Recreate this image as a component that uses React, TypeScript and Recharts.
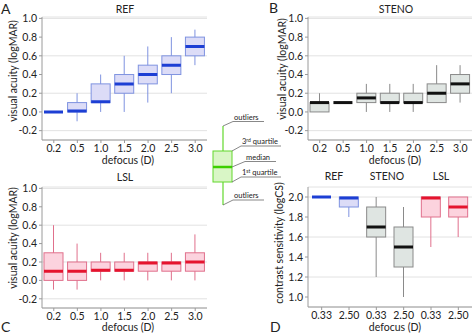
import React from 'react';
import { ComposedChart, Bar, XAxis, YAxis, CartesianGrid } from 'recharts';

// defocus levels for panels A-C
const defocus = ['0.2', '0.5', '1.0', '1.5', '2.0', '2.5', '3.0'];
const acuityTicks = [-0.2, 0, 0.2, 0.4, 0.6, 0.8, 1.0];

// REF (panel A), logMAR
const refLow = [0, -0.1, 0, 0, 0.1, 0.2, 0.5];
const refQ1 = [0, 0, 0.1, 0.2, 0.3, 0.4, 0.6];
const refMed = [0, 0.01, 0.11, 0.3, 0.4, 0.5, 0.7];
const refQ3 = [0, 0.1, 0.3, 0.4, 0.5, 0.6, 0.8];
const refHigh = [0, 0.2, 0.4, 0.6, 0.7, 0.8, 0.88];

// STENO (panel B)
const stenoLow = [0, 0.1, 0, 0, 0, 0.1, 0.1];
const stenoQ1 = [0, 0.1, 0.1, 0.1, 0.1, 0.1, 0.2];
const stenoMed = [0.1, 0.1, 0.15, 0.1, 0.1, 0.2, 0.3];
const stenoQ3 = [0.1, 0.1, 0.2, 0.2, 0.2, 0.3, 0.4];
const stenoHigh = [0.2, 0.1, 0.3, 0.3, 0.3, 0.5, 0.5];

// LSL (panel C)
const lslLow = [-0.1, -0.1, 0, 0, 0, 0, 0];
const lslQ1 = [0, 0, 0.1, 0.1, 0.1, 0.1, 0.1];
const lslMed = [0.1, 0.1, 0.11, 0.11, 0.19, 0.19, 0.2];
const lslQ3 = [0.3, 0.2, 0.2, 0.2, 0.2, 0.2, 0.3];
const lslHigh = [0.6, 0.4, 0.3, 0.3, 0.3, 0.3, 0.5];

// contrast sensitivity (panel D), logCS
const csGroup = ['REF', 'REF', 'STENO', 'STENO', 'LSL', 'LSL'];
const csDefocus = ['0.33', '2.50', '0.33', '2.50', '0.33', '2.50'];
const csLow = [2.0, 1.8, 1.2, 1.0, 1.5, 1.6];
const csQ1 = [2.0, 1.9, 1.6, 1.3, 1.8, 1.8];
const csMed = [2.0, 1.99, 1.7, 1.5, 1.99, 1.9];
const csQ3 = [2.0, 2.0, 1.9, 1.7, 2.0, 2.0];
const csHigh = [2.0, 2.0, 2.0, 1.9, 2.0, 2.0];
const csTicks = [1.0, 1.2, 1.4, 1.6, 1.8, 2.0];

const FONT = 'Lato, "Open Sans", sans-serif';
const AXIS = '#9a9a9a';
const TXT = '#222222';

const PAL: Record<string, { fill: string; stroke: string; median: string }> = {
  REF: { fill: '#dcdcf7', stroke: '#7f93e0', median: '#1d3fd4' },
  STENO: { fill: '#dfe5e2', stroke: '#8a8a8a', median: '#111111' },
  LSL: { fill: '#fcd3de', stroke: '#e0708c', median: '#e5142e' },
};

const rows = (names: string[], lo: number[], q1: number[], med: number[], q3: number[], hi: number[], group: string[]) =>
  names.map((name, i) => ({ name, lo: lo[i], q1: q1[i], med: med[i], q3: q3[i], hi: hi[i], group: group[i] }));

const refData = rows(defocus, refLow, refQ1, refMed, refQ3, refHigh, defocus.map(() => 'REF'));
const stenoData = rows(defocus, stenoLow, stenoQ1, stenoMed, stenoQ3, stenoHigh, defocus.map(() => 'STENO'));
const lslData = rows(defocus, lslLow, lslQ1, lslMed, lslQ3, lslHigh, defocus.map(() => 'LSL'));
const csData = rows(csDefocus.map((d, i) => `${csGroup[i]} ${d}`), csLow, csQ1, csMed, csQ3, csHigh, csGroup);

// the bar spans whisker low..high; everything else is placed inside it
const BoxShape = (props: any) => {
  const { x, y, width, height, payload } = props;
  const top = Math.min(y, y + height);
  const bot = Math.max(y, y + height);
  const { lo, q1, med, q3, hi, group } = payload;
  const span = hi - lo;
  const py = (v: number) => (span === 0 ? top : top + ((hi - v) / span) * (bot - top));
  const cx = x + width / 2;
  const pal = PAL[group];
  return (
    <g>
      <line x1={cx} x2={cx} y1={py(hi)} y2={py(lo)} stroke={pal.stroke} strokeWidth={1} />
      <rect x={x} y={py(q3)} width={width} height={py(q1) - py(q3)} fill={pal.fill} stroke={pal.stroke} strokeWidth={1} />
      <line x1={x} x2={x + width} y1={py(med)} y2={py(med)} stroke={pal.median} strokeWidth={3} />
    </g>
  );
};

const tickStyle = { fontSize: 10.5, fill: TXT, fontFamily: FONT };

function BoxPanel({ data, width, height, margin, domain, ticks, xHeight, fmt }: any) {
  return (
    <ComposedChart width={width} height={height} data={data} margin={margin}>
      <CartesianGrid vertical={false} stroke="#e2e2e2" />
      <XAxis dataKey="name" height={xHeight} tick={tickStyle} tickFormatter={fmt} stroke={AXIS} tickSize={3} interval={0} />
      <XAxis xAxisId="top" orientation="top" dataKey="name" height={0} tick={false} tickLine={false} stroke={AXIS} />
      <YAxis type="number" domain={domain} ticks={ticks} allowDataOverflow width={42} tick={tickStyle} tickFormatter={(v: number) => v.toFixed(1)} stroke={AXIS} tickSize={3} />
      <YAxis yAxisId="right" orientation="right" type="number" domain={domain} allowDataOverflow width={0} tick={false} tickLine={false} stroke={AXIS} />
      <Bar dataKey={(d: any) => [d.lo, d.hi]} barSize={19} shape={BoxShape} isAnimationActive={false} />
    </ComposedChart>
  );
}

const Rot = ({ x, y, children }: any) => (
  <text transform={`translate(${x},${y}) rotate(-90)`} textAnchor="middle" dominantBaseline="central" fontSize={10.5} fill={TXT} fontFamily={FONT}>
    {children}
  </text>
);

const T = ({ x, y, size = 10.5, anchor = 'middle', children }: any) => (
  <text x={x} y={y} textAnchor={anchor} fontSize={size} fill={TXT} fontFamily={FONT}>
    {children}
  </text>
);

function Key() {
  const g = '#62d82c';
  const lead = '#555';
  const fs = 7.5;
  return (
    <g fontFamily={FONT} fontSize={fs} fill={TXT}>
      <line x1={223} x2={223} y1={126} y2={205} stroke={g} strokeWidth={1.2} />
      <rect x={213} y={151} width={19} height={31} fill="#d9f6c6" stroke={g} />
      <line x1={213} x2={232} y1={167} y2={167} stroke="#3ccf00" strokeWidth={2.5} />
      <polyline points="223,126 233,121.5 264,121.5" fill="none" stroke={lead} strokeWidth={0.7} />
      <text x={234} y={119.5}>outliers</text>
      <polyline points="232,151 241,146 281,146" fill="none" stroke={lead} strokeWidth={0.7} />
      <text x={242} y={144}>3<tspan fontSize={5} dy={-2.5}>rd</tspan><tspan dy={2.5}> quartile</tspan></text>
      <polyline points="232,167 245,161.5 276,161.5" fill="none" stroke={lead} strokeWidth={0.7} />
      <text x={246} y={159.5}>median</text>
      <polyline points="232,182 241,177 281,177" fill="none" stroke={lead} strokeWidth={0.7} />
      <text x={242} y={175}>1<tspan fontSize={5} dy={-2.5}>st</tspan><tspan dy={2.5}> quartile</tspan></text>
      <polyline points="223,205 233,200 264,200" fill="none" stroke={lead} strokeWidth={0.7} />
      <text x={234} y={198}>outliers</text>
    </g>
  );
}

export default function App() {
  const box = (left: number, top: number, el: React.ReactNode) => (
    <div style={{ position: 'absolute', left, top }}>{el}</div>
  );
  return (
    <div style={{ position: 'absolute', left: 0, top: 0, width: 474, height: 335, background: '#fff', overflow: 'hidden' }}>
      {box(0, 0, <BoxPanel data={refData} width={212} height={175} margin={{ top: 17, right: 5, left: 0, bottom: 0 }} domain={[-0.3, 1.015]} ticks={acuityTicks} xHeight={35} />)}
      {box(240, 0, <BoxPanel data={stenoData} width={234} height={175} margin={{ top: 17, right: 2, left: 26, bottom: 0 }} domain={[-0.3, 1.015]} ticks={acuityTicks} xHeight={35} />)}
      {box(0, 165, <BoxPanel data={lslData} width={212} height={170} margin={{ top: 22, right: 5, left: 0, bottom: 0 }} domain={[-0.3, 1.015]} ticks={acuityTicks} xHeight={27} />)}
      {box(240, 165, <BoxPanel data={csData} width={234} height={170} margin={{ top: 22, right: 2, left: 26, bottom: 0 }} domain={[0.9, 2.1]} ticks={csTicks} xHeight={28} fmt={(v: string) => v.split(' ')[1]} />)}
      <svg width={474} height={335} style={{ position: 'absolute', left: 0, top: 0, pointerEvents: 'none' }}>
        <T x={1} y={14} size={14} anchor="start">A</T>
        <T x={269} y={13} size={14} anchor="start">B</T>
        <T x={1} y={332} size={14} anchor="start">C</T>
        <T x={270} y={332} size={14} anchor="start">D</T>
        <T x={125} y={13}>REF</T>
        <T x={396} y={13}>STENO</T>
        <T x={125} y={181}>LSL</T>
        <T x={334} y={180}>REF</T>
        <T x={387} y={180}>STENO</T>
        <T x={441} y={180}>LSL</T>
        <T x={128} y={164}>defocus (D)</T>
        <T x={395} y={164}>defocus (D)</T>
        <T x={128} y={331}>defocus (D)</T>
        <T x={395} y={331}>defocus (D)</T>
        <Rot x={13} y={71}>visual acuity (logMAR)</Rot>
        <Rot x={282} y={69}>visual acuity (logMAR)</Rot>
        <Rot x={13} y={238}>visual acuity (logMAR)</Rot>
        <Rot x={279} y={243}>contrast sensitivity (logCS)</Rot>
        <Key />
      </svg>
    </div>
  );
}
